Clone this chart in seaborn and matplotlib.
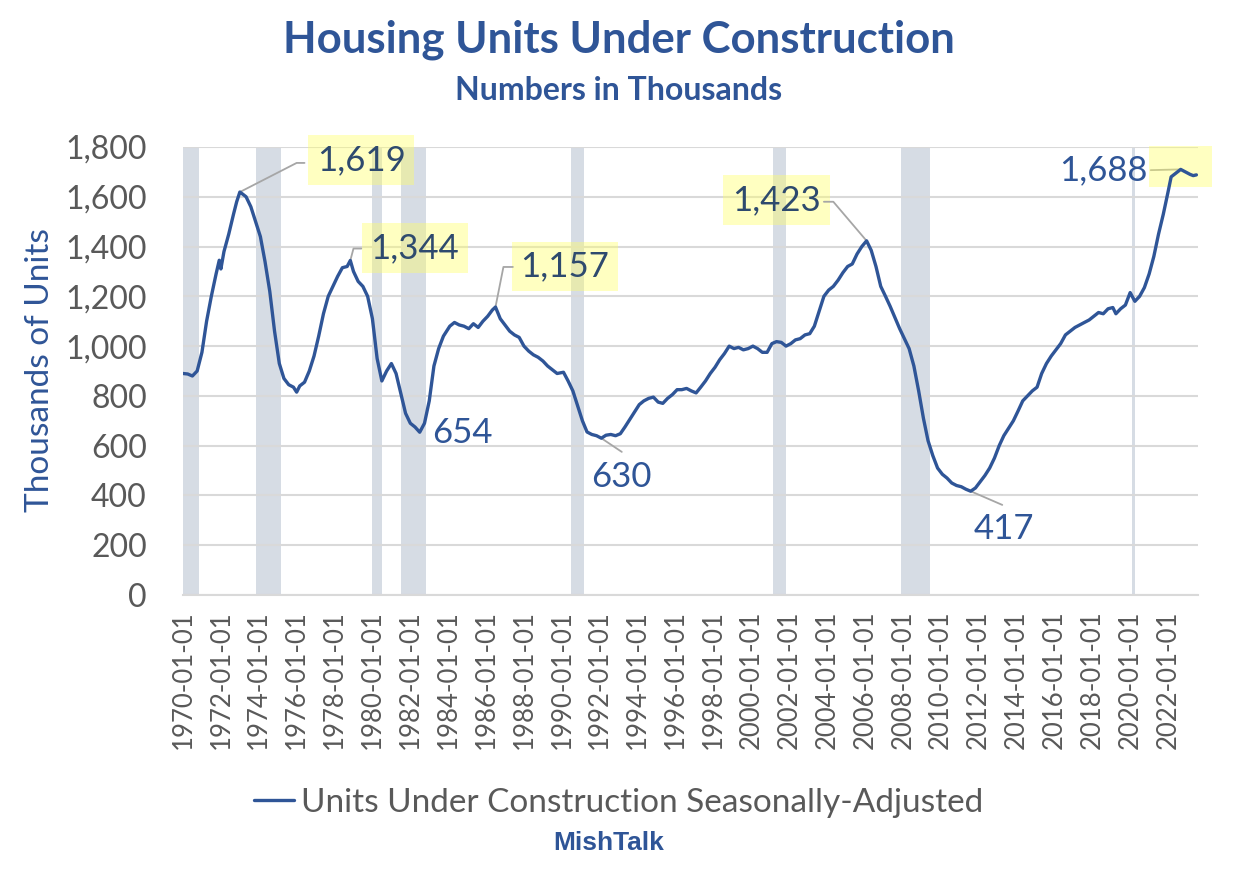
import pandas as pd
import numpy as np
import seaborn as sns
import matplotlib.pyplot as plt
import matplotlib.dates as mdates
from matplotlib.patches import Rectangle

# values (thousands of units, seasonally adjusted)
months = [
    "1970-01", "1970-04", "1970-07", "1970-10", "1971-01", "1971-04", "1971-07", "1971-10",
    "1971-12", "1972-01", "1972-03", "1972-06", "1972-09", "1972-11", "1973-01", "1973-03",
    "1973-05", "1973-08", "1973-11", "1974-02", "1974-05", "1974-08", "1974-11", "1975-02",
    "1975-05", "1975-08", "1975-11", "1976-01", "1976-03", "1976-06", "1976-09", "1976-12",
    "1977-03", "1977-06", "1977-09", "1977-12", "1978-03", "1978-06", "1978-09", "1978-11",
    "1979-01", "1979-04", "1979-07", "1979-10", "1980-01", "1980-04", "1980-07", "1980-10",
    "1981-01", "1981-04", "1981-07", "1981-10", "1982-01", "1982-04", "1982-07", "1982-10",
    "1983-01", "1983-04", "1983-07", "1983-10", "1984-02", "1984-05", "1984-08", "1984-11",
    "1985-02", "1985-05", "1985-08", "1985-11", "1986-02", "1986-05", "1986-07", "1986-10",
    "1987-01", "1987-04", "1987-07", "1987-10", "1988-01", "1988-04", "1988-07", "1988-10",
    "1989-01", "1989-04", "1989-07", "1989-10", "1990-02", "1990-05", "1990-08", "1990-11",
    "1991-02", "1991-05", "1991-08", "1991-11", "1992-02", "1992-05", "1992-08", "1992-11",
    "1993-02", "1993-05", "1993-08", "1993-11", "1994-02", "1994-05", "1994-08", "1994-11",
    "1995-02", "1995-05", "1995-08", "1995-11", "1996-02", "1996-05", "1996-08", "1996-11",
    "1997-02", "1997-05", "1997-08", "1997-11", "1998-02", "1998-05", "1998-08", "1998-11",
    "1999-02", "1999-05", "1999-08", "1999-11", "2000-02", "2000-05", "2000-08", "2000-11",
    "2001-02", "2001-05", "2001-08", "2001-11", "2002-02", "2002-05", "2002-08", "2002-11",
    "2003-02", "2003-05", "2003-08", "2003-11", "2004-02", "2004-05", "2004-08", "2004-11",
    "2005-02", "2005-05", "2005-08", "2005-11", "2006-02", "2006-05", "2006-08", "2006-11",
    "2007-02", "2007-05", "2007-08", "2007-11", "2008-02", "2008-05", "2008-08", "2008-11",
    "2009-02", "2009-05", "2009-08", "2009-11", "2010-02", "2010-05", "2010-08", "2010-11",
    "2011-02", "2011-05", "2011-08", "2011-11", "2012-02", "2012-05", "2012-08", "2012-11",
    "2013-02", "2013-05", "2013-08", "2013-11", "2014-02", "2014-05", "2014-08", "2014-11",
    "2015-02", "2015-05", "2015-08", "2015-11", "2016-02", "2016-05", "2016-08", "2016-11",
    "2017-02", "2017-05", "2017-08", "2017-11", "2018-02", "2018-05", "2018-08", "2018-11",
    "2019-02", "2019-04", "2019-07", "2019-10", "2020-01", "2020-04", "2020-07", "2020-10",
    "2021-01", "2021-04", "2021-07", "2021-10", "2022-01", "2022-03", "2022-06", "2022-09",
    "2022-12", "2023-03", "2023-05", "2023-07",
]
units = [
    890, 888, 880, 900, 975, 1100, 1200, 1290,
    1345, 1310, 1380, 1450, 1530, 1580, 1619, 1610,
    1600, 1560, 1500, 1440, 1340, 1220, 1060, 930,
    870, 845, 835, 815, 840, 855, 900, 960,
    1040, 1130, 1200, 1240, 1280, 1315, 1320, 1344,
    1300, 1260, 1240, 1200, 1110, 950, 860, 900,
    930, 890, 810, 730, 690, 675, 654, 690,
    780, 920, 990, 1040, 1080, 1095, 1085, 1080,
    1070, 1090, 1075, 1100, 1120, 1145, 1157, 1110,
    1085, 1060, 1045, 1035, 1000, 980, 965, 955,
    940, 920, 905, 890, 895, 860, 820, 760,
    700, 655, 645, 640, 630, 642, 645, 640,
    648, 675, 705, 735, 765, 780, 790, 795,
    775, 770, 790, 805, 825, 825, 830, 820,
    812, 835, 860, 890, 915, 945, 970, 1000,
    990, 995, 985, 990, 1000, 990, 975, 975,
    1010, 1018, 1015, 1000, 1010, 1025, 1030, 1045,
    1050, 1080, 1140, 1200, 1225, 1240, 1265, 1295,
    1320, 1330, 1370, 1400, 1423, 1385, 1320, 1240,
    1200, 1160, 1115, 1070, 1030, 990, 920, 820,
    710, 620, 560, 510, 485, 470, 450, 440,
    435, 425, 417, 430, 455, 480, 510, 550,
    600, 640, 670, 700, 740, 780, 800, 820,
    835, 890, 930, 960, 985, 1010, 1045, 1060,
    1075, 1085, 1095, 1105, 1120, 1135, 1130, 1150,
    1155, 1130, 1150, 1165, 1215, 1180, 1200, 1235,
    1290, 1360, 1450, 1530, 1620, 1680, 1695, 1710,
    1700, 1690, 1685, 1688,
]

recession_start = ["1969-12", "1973-11", "1980-01", "1981-07", "1990-07", "2001-03", "2007-12", "2020-02"]
recession_end = ["1970-11", "1975-03", "1980-07", "1982-11", "1991-03", "2001-11", "2009-06", "2020-04"]

blue = "#2F5597"
dark = "#2E4A6E"
grey_txt = "#595959"
leader = "#A6A6A6"
yellow = "#FFFF66"

df = pd.DataFrame({"date": pd.to_datetime(months), "units": units})

sns.set_style("white")
plt.rcParams["font.family"] = ["Lato", "DejaVu Sans"]

fig = plt.figure(figsize=(12.37, 8.86), dpi=100)
ax = fig.add_axes([183 / 1237, 1 - 595 / 886, 1015 / 1237, 448 / 886])

for s, e in zip(recession_start, recession_end):
    ax.axvspan(pd.Timestamp(s), pd.Timestamp(e), color="#D6DCE4", lw=0, zorder=0)

sns.lineplot(data=df, x="date", y="units", ax=ax, color=blue, lw=2.4, zorder=3,
             label="Units Under Construction Seasonally-Adjusted")

ax.set_xlim(pd.Timestamp("1970-01-01"), pd.Timestamp("2023-08-01"))
ax.set_ylim(0, 1800)
ax.set_yticks(range(0, 1801, 200))
ax.yaxis.set_major_formatter(plt.FuncFormatter(lambda v, p: f"{int(v):,}"))
ax.grid(axis="y", color="#D9D9D9", lw=1.5, zorder=1)
ax.set_axisbelow(True)
for side in ["top", "right", "left"]:
    ax.spines[side].set_visible(False)
ax.spines["bottom"].set_color("#D9D9D9")
ax.spines["bottom"].set_linewidth(1.5)

ax.xaxis.set_major_locator(mdates.YearLocator(2))
ax.xaxis.set_major_formatter(mdates.DateFormatter("%Y-%m-%d"))
ax.tick_params(axis="x", rotation=90, labelsize=18.5, labelcolor=grey_txt, length=9,
               width=1.5, color="#D9D9D9", pad=2)
ax.tick_params(axis="y", labelsize=23, labelcolor=grey_txt, length=0, pad=26)
ax.set_xlabel("")
ax.set_ylabel("")
ax.get_legend().remove()


def pk(month):
    row = df[df["date"] == pd.Timestamp(month)].iloc[0]
    return row["date"], row["units"]


def box_label(txt, x, y, path, color=dark, bg=True):
    kw = dict(boxstyle="square,pad=0.25", fc=yellow, ec="none", alpha=0.4) if bg else None
    ax.text(pd.Timestamp(x), y, txt, fontsize=25, color=color, ha="center", va="center",
            bbox=kw, zorder=2, clip_on=False)
    if path:
        xs = [pd.Timestamp(p[0]) if isinstance(p[0], str) else p[0] for p in path]
        ys = [p[1] for p in path]
        ax.plot(xs, ys, color=leader, lw=1.3, zorder=2, clip_on=False)


d, v = pk("1973-01")
box_label(f"{v:,}", "1979-06", 1748, [(d, v), ("1976-01", 1736), ("1976-06", 1736)])
d, v = pk("1978-11")
box_label(f"{v:,}", "1982-04", 1394, [(d, v), ("1979-01", 1392), ("1979-06", 1392)])
d, v = pk("1986-07")
box_label(f"{v:,}", "1990-03", 1320, [(d, v), ("1986-12", 1318), ("1987-06", 1318)])
d, v = pk("2006-02")
box_label(f"{v:,}", "2001-05", 1587, [(d, v), ("2004-05", 1580), ("2003-11", 1580)])
d, v = pk("1982-07")
box_label(f"{v:,}", "1984-10", 651, None, color=blue, bg=False)
d, v = pk("1992-02")
box_label(f"{v:,}", "1993-03", 474, [(d, v), ("1993-03", 575)], color=blue, bg=False)
d, v = pk("2011-08")
box_label(f"{v:,}", "2013-05", 265, [(d, v), ("2013-04", 362)], color=blue, bg=False)
d, v = pk("2023-07")
box_label(f"{v:,}", "2018-08", 1707, [("2021-02", 1707), pk("2022-09")], color=blue, bg=False)
ax.add_patch(Rectangle((mdates.date2num(pd.Timestamp("2021-01")), 1639),
                       mdates.date2num(pd.Timestamp("2024-05")) - mdates.date2num(pd.Timestamp("2021-01")),
                       165, fc=yellow, ec="none", alpha=0.4, zorder=2, clip_on=False))

fig.text(0.5, 1 - 40 / 886, "Housing Units Under Construction", ha="center", va="center",
         fontsize=31.5, fontweight="bold", color=blue)
fig.text(0.5, 1 - 90 / 886, "Numbers in Thousands", ha="center", va="center",
         fontsize=23, fontweight="bold", color=blue)
fig.text(40 / 1237, 1 - 370 / 886, "Thousands of Units", rotation=90, ha="center",
         va="center", fontsize=24, color=blue)

handles, labels = ax.get_lines()[:1], ["Units Under Construction Seasonally-Adjusted"]
fig.legend(handles, labels, loc="center", bbox_to_anchor=(0.5, 1 - 803 / 886), frameon=False,
           fontsize=24, labelcolor=grey_txt, handlelength=1.2, handletextpad=0.2)
fig.text(609 / 1237, 1 - 843 / 886, "MishTalk", ha="center", va="center", fontsize=19,
         fontweight="bold", color=blue, family=["Liberation Sans Narrow", "Liberation Sans"])

fig.savefig("out.png", dpi=100)
